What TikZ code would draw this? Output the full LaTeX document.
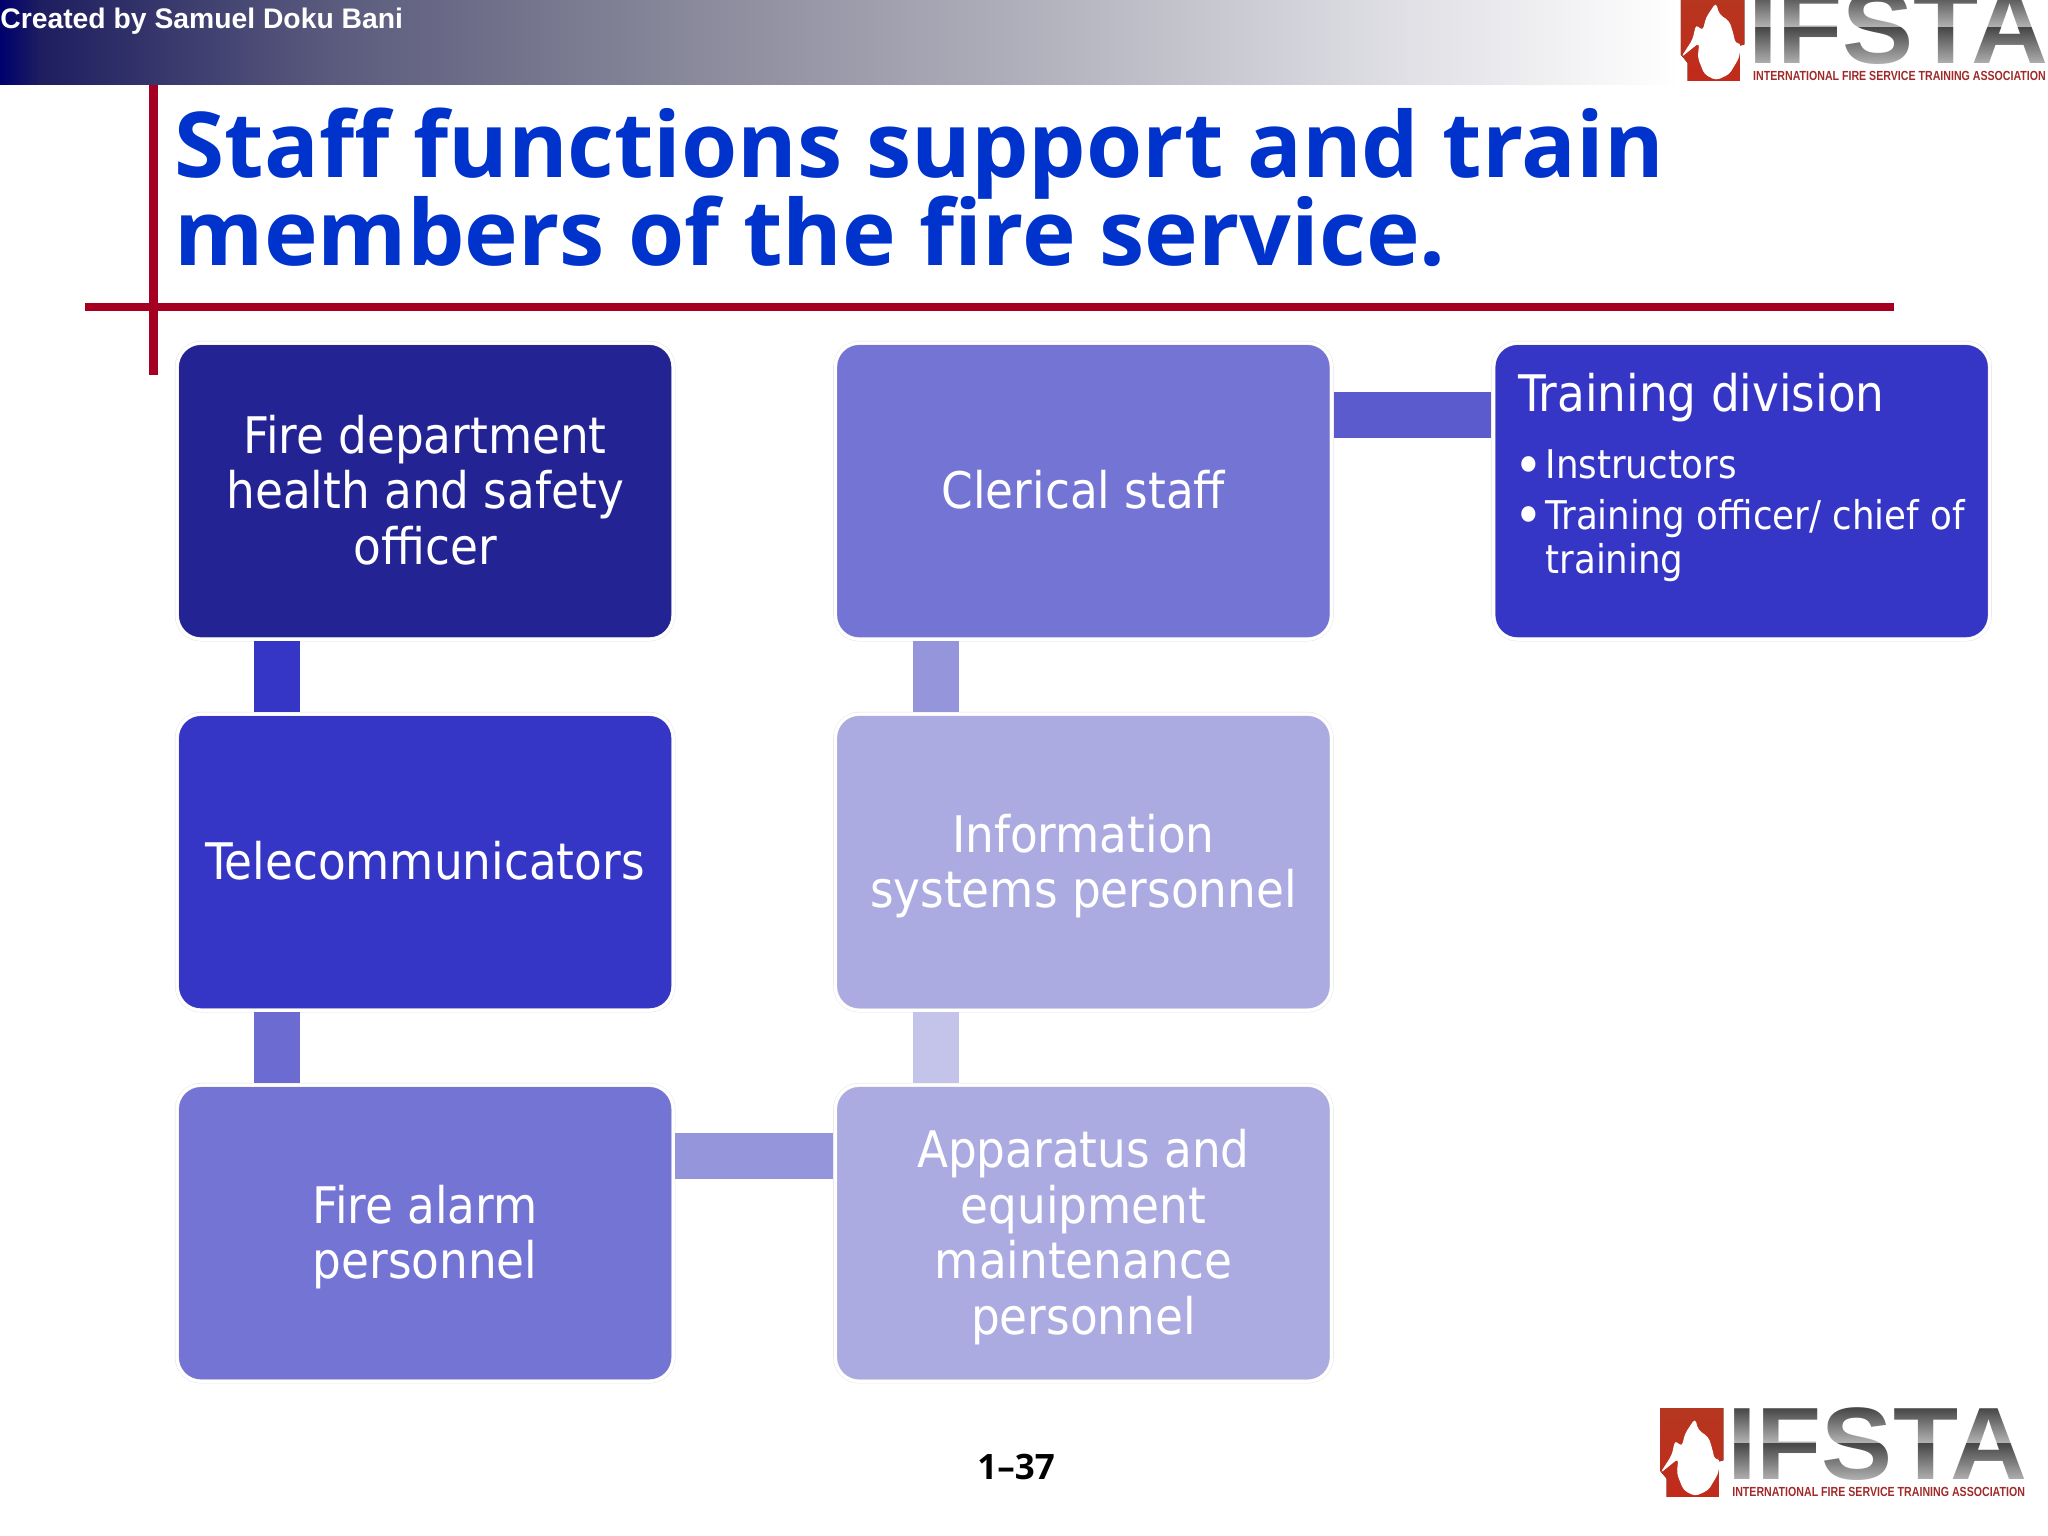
\documentclass[tikz,border=0pt]{standalone}
\usepackage{fontspec}
\usepackage{graphicx}
\usetikzlibrary{matrix,fadings}
\newfontfamily\titlefam{Open Sans}
\newfontfamily\boxfam{DejaVu Sans Condensed}
\newfontfamily\headfam{Liberation Sans}
\newcommand\boxlines[1]{\begin{tabular}{@{}c@{}}\rule{0pt}{26.1pt}#1\end{tabular}}
\newcommand\bulletlines[1]{{\fontsize{19.8pt}{22.2pt}\selectfont\begin{tabular}{@{}l@{}}#1\end{tabular}}}
\newcommand\bulletmark{\makebox[13.5pt][l]{\hspace*{-2pt}\raisebox{-2.6pt}{\fontsize{27pt}{22pt}\selectfont\textbullet}}}
\definecolor{navyend}{HTML}{00006E}
\definecolor{headA}{HTML}{1E1E60}
\definecolor{headB}{HTML}{5A5A7D}
\definecolor{headC}{HTML}{858598}
\definecolor{headD}{HTML}{B0B0BC}
\definecolor{headE}{HTML}{DEDEE4}
\definecolor{boxdeep}{HTML}{232394}
\definecolor{boxstrong}{HTML}{3636C6}
\definecolor{boxmid}{HTML}{7474D4}
\definecolor{boxpale}{HTML}{ABABE2}
\definecolor{linerule}{HTML}{A50021}
\definecolor{titleblue}{HTML}{0033CC}
\definecolor{flametop}{HTML}{B5371F}
\definecolor{flamemid}{HTML}{DC8060}
\definecolor{flamelow}{HTML}{C22A1C}
\definecolor{mottored}{HTML}{A02A2A}
\pgfdeclarehorizontalshading{headershade}{100bp}{
  color(0bp)=(navyend); color(25bp)=(navyend);
  color(26bp)=(headA);
  color(33bp)=(headB);
  color(41bp)=(headC);
  color(50bp)=(headD);
  color(59bp)=(headE);
  color(66bp)=(white); color(100bp)=(white)
}
\tikzset{
  x=0.653pt, y=-0.653pt,
  box grid/.style={
    matrix of nodes,
    inner sep=0pt,
    column sep={329.1pt,between origins},
    row sep={185.5pt,between origins},
    nodes={
      rectangle,
      rounded corners=12pt,
      draw=black!12,
      line width=0.2pt,
      double=white,
      double distance=1.6pt,
      outer sep=1pt,
      minimum width=248.2pt,
      minimum height=148.2pt,
      anchor=center,
      inner sep=0pt,
      text=white,
      font=\boxfam\fontsize{25.2pt}{27.8pt}\selectfont,
    }
  },
  deep box/.style={fill=boxdeep},
  strong box/.style={fill=boxstrong},
  mid box/.style={fill=boxmid},
  pale box/.style={fill=boxpale},
  link/.style={line width=22.9pt, draw=#1},
  rule bar/.style={fill=linerule},
  ifsta logo/.pic={
    \fill[top color=flametop, middle color=flamemid, bottom color=flamelow]
      (0,-68) -- (48.5,-68) -- (48.5,-28) -- (45,-27) -- (45,0) -- (5,0) -- (5,-14) -- (0,-20) -- cycle;
    \fill[white, rounded corners=2pt]
      (26.8,-60) -- (19.1,-48.5) -- (16.6,-38.3) -- (11.5,-43.4) -- (8.9,-31.9) -- (0,-18)
      -- (14,-29.3) -- (12.8,-17.9) -- (17.9,-5.1) -- (26.8,-0.5) -- (37,-5.1) -- (44.6,-17.9)
      -- (45.9,-29.3) -- (42,-28) -- (39.5,-38.3) -- (37,-45.9) -- (29.3,-51) -- cycle;
    \node (-word) [anchor=south west, inner sep=0pt, text=black!72] at (51,-12)
      {\resizebox{150pt}{35.9pt}{\headfam\bfseries IFSTA}};
    \fill[white, opacity=.6, path fading=north] (51,-68) rectangle (280,-41);
    \fill[white, opacity=.6, path fading=north] (51,-41) rectangle (280,-12);
    \node (-motto) [anchor=south west, inner sep=0pt, text=mottored] at (55,0)
      {\resizebox{146.3pt}{4.6pt}{\headfam\bfseries INTERNATIONAL FIRE SERVICE TRAINING ASSOCIATION}};
  },
}
\begin{document}
\begin{tikzpicture}
\useasboundingbox (0,0) rectangle (1568,1176);
\fill[shading=headershade] (0,0) rectangle (1568,65);
\node (creator) [anchor=base west, inner sep=0pt, text=white, font=\headfam\bfseries\fontsize{14.15pt}{16pt}\selectfont]
  at (0,22) {Created by Samuel Doku Bani};
\fill[rule bar] (114,65) rectangle (121,287);
\fill[rule bar] (65,232) rectangle (1450,238);
\node (title) [anchor=north west, inner sep=0pt, align=left, text=titleblue,
  font=\titlefam\bfseries\fontsize{45.45pt}{44.4pt}\selectfont]
  at (133.5,82) {Staff functions support and train\\[-2.6pt]members of the fire service.};
\matrix[box grid, matrix anchor=officer.center] at (325.5,376)
{
  |[deep box](officer)| \boxlines{Fire department\\health and safety\\officer} &
  |[mid box](clerical)| \boxlines{Clerical staff} &
  |[strong box](training)| \begin{tabular}{@{}l@{}}Training division\\[10pt]
    \bulletlines{\bulletmark Instructors\\[3pt]
    \bulletmark Training officer/ chief of\\
    \hspace*{13.5pt}training\\[-10.8pt] \\}\end{tabular} \\
  |[strong box](tele)| \boxlines{Telecommunicators} &
  |[pale box](info)| \boxlines{Information\\systems personnel} & \\
  |[mid box](alarm)| \boxlines{Fire alarm\\personnel} &
  |[pale box](apparatus)| \boxlines{Apparatus and\\equipment\\maintenance\\personnel} & \\
};
\draw[link=boxstrong] ([xshift=51.2pt]officer.south west) -- ([xshift=51.2pt]tele.north west);
\draw[link=boxmid!85!boxstrong] ([xshift=51.2pt]tele.south west) -- ([xshift=51.2pt]alarm.north west);
\draw[link=boxpale!60!boxmid] ([yshift=-36.5pt]alarm.north east) -- ([yshift=-36.5pt]apparatus.north west);
\draw[link=boxpale!60!boxmid] ([xshift=51.2pt]clerical.south west) -- ([xshift=51.2pt]info.north west);
\draw[link=boxpale!70!white] ([xshift=51.2pt]info.south west) -- ([xshift=51.2pt]apparatus.north west);
\draw[link=boxmid!60!boxstrong] ([yshift=-37.2pt]clerical.north east) -- ([yshift=-37.2pt]training.north west);
\node (pagenum) [inner sep=0pt, font=\titlefam\bfseries\fontsize{17.5pt}{20pt}\selectfont] at (778,1123) {1–37};
\pic (toplogo) at (1287,62) {ifsta logo};
\pic (footlogo) at (1271,1146) {ifsta logo};
\end{tikzpicture}
\end{document}
